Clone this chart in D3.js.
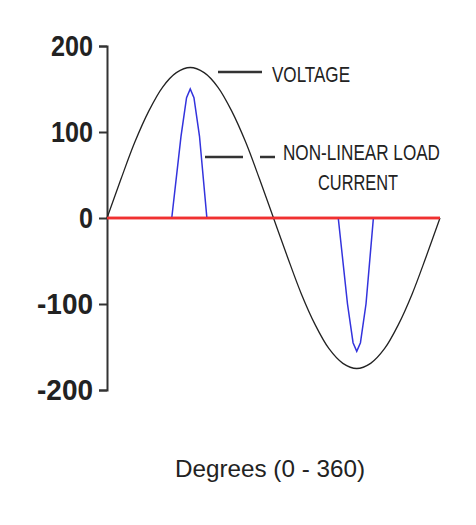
<!DOCTYPE html>
<html>
<head>
<meta charset="utf-8">
<script src="https://cdn.jsdelivr.net/npm/d3@7"></script>
<style>
  body { margin: 0; background: white; }
  text { font-family: "Liberation Sans", Arial, sans-serif; fill: #222; }
</style>
</head>
<body>
<svg id="chart" width="476" height="525"></svg>
<script>
// voltage: sine, peak ~175
var voltageDeg = [0, 15, 30, 45, 60, 75, 90, 105, 120, 135, 150, 165, 180, 195, 210, 225, 240, 255, 270, 285, 300, 315, 330, 345, 360];
var voltageVal = [0, 45, 88, 124, 152, 169, 175, 169, 152, 124, 88, 45, 0, -45, -88, -124, -152, -169, -175, -169, -152, -124, -88, -45, 0];
// non-linear load current pulses
var currentDeg = [0, 70, 80, 86, 90, 94, 100, 108, 250, 260, 266, 270, 274, 280, 288, 360];
var currentVal = [0, 0, 95, 140, 150, 140, 95, 0, 0, -100, -145, -155, -145, -100, 0, 0];
var yTicks = [200, 100, 0, -100, -200];

var svg = d3.select("#chart");
var x = d3.scaleLinear().domain([0, 360]).range([107, 440]);
var y = d3.scaleLinear().domain([-200, 200]).range([390, 46]);

// y axis
var yAxis = d3.axisLeft(y).tickValues(yTicks).tickSize(8).tickPadding(6).tickFormat(d => String(d));
var ag = svg.append("g").attr("transform", "translate(107,0)").call(yAxis);
ag.select(".domain").attr("stroke", "#333").attr("stroke-width", 2);
ag.selectAll(".tick line").attr("stroke", "#333").attr("stroke-width", 2);
ag.selectAll(".tick text")
  .style("font-family", '"Liberation Sans", sans-serif')
  .style("font-size", "30px").style("font-weight", "bold").style("fill", "#222")
  .attr("textLength", d => String(d).length * 14).attr("lengthAdjust", "spacingAndGlyphs");

// zero line
svg.append("line").attr("x1", x(0)).attr("x2", x(360)).attr("y1", y(0)).attr("y2", y(0))
  .attr("stroke", "#f03030").attr("stroke-width", 2.5);

// voltage
svg.append("path")
  .datum(d3.zip(voltageDeg, voltageVal))
  .attr("d", d3.line().x(d => x(d[0])).y(d => y(d[1])).curve(d3.curveCatmullRom))
  .attr("fill", "none").attr("stroke", "#222").attr("stroke-width", 1.3);

// current
svg.append("path")
  .datum(d3.zip(currentDeg, currentVal))
  .attr("d", d3.line().x(d => x(d[0])).y(d => y(d[1])))
  .attr("fill", "none").attr("stroke", "#3333dd").attr("stroke-width", 1.5);
// redraw zero line over the flat parts of current
svg.append("line").attr("x1", x(0)).attr("x2", x(360)).attr("y1", y(0)).attr("y2", y(0))
  .attr("stroke", "#f03030").attr("stroke-width", 2.5);

// annotations
function label(tx, ty, w, s) {
  svg.append("text").attr("x", tx).attr("y", ty).attr("font-size", 22)
    .attr("textLength", w).attr("lengthAdjust", "spacingAndGlyphs").text(s);
}
svg.append("line").attr("x1", 218).attr("x2", 262).attr("y1", 72).attr("y2", 72).attr("stroke", "#333").attr("stroke-width", 2.5);
label(272, 82, 78, "VOLTAGE");
svg.append("line").attr("x1", 205).attr("x2", 243).attr("y1", 157).attr("y2", 157).attr("stroke", "#333").attr("stroke-width", 2.5);
svg.append("line").attr("x1", 260).attr("x2", 275).attr("y1", 157).attr("y2", 157).attr("stroke", "#333").attr("stroke-width", 2.5);
label(283, 160, 157, "NON-LINEAR LOAD");
label(318, 190, 80, "CURRENT");

svg.append("text").attr("x", 175).attr("y", 477).attr("font-size", 24)
  .attr("textLength", 190).attr("lengthAdjust", "spacingAndGlyphs").text("Degrees (0 - 360)");
</script>
</body>
</html>
